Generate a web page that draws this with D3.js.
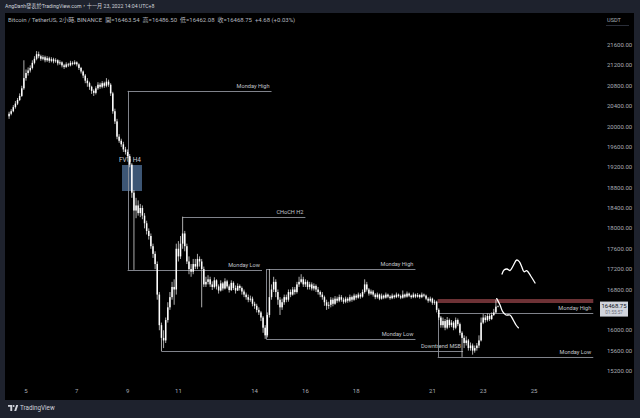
<!DOCTYPE html>
<html><head><meta charset="utf-8">
<script src="https://cdn.jsdelivr.net/npm/d3@7"></script>
<style>html,body{margin:0;padding:0;background:#1e222d;overflow:hidden}svg{display:block}</style>
</head><body><svg id="c" width="640" height="418"></svg>
<script>
// ---- data (2h candles, BTC/USDT, hours counted from Nov 4 00:00) ----
const firstOpen = 20200;
const firstHour = 8;
const stepHours = 2;
const closes = [
 20250,20300,20380,20450,20520,20600,20750,20950,21050,21100,21150,21250,
 21330,21420,21380,21330,21360,21300,21340,21290,21320,21280,21300,21240,
 21260,21200,21170,21220,21200,21250,21230,21260,21220,21150,21080,21000,
 20900,20850,20780,20700,20660,20750,20820,20780,20850,20800,20880,20820,
 20650,20300,20100,19800,19720,19650,19550,19500,19420,19250,18700,18350,
 18450,18300,18400,18250,18100,17950,17850,17650,17500,17300,16700,16100,
 15850,15800,16200,16450,16650,16850,16800,17600,17450,17700,17900,17650,
 17350,17200,17150,17300,17250,17400,17350,17200,16900,16950,17000,16900,
 16850,16980,16860,16780,16920,16820,16960,16860,16790,16930,16830,16780,
 16870,16830,16760,16700,16650,16600,16620,16520,16480,16400,16350,16250,
 16050,15900,16300,16650,16800,16950,16750,16600,16450,16550,16650,16600,
 16750,16700,16800,16750,16900,16950,17000,16900,16950,16850,16900,16820,
 16870,16800,16750,16700,16650,16550,16480,16500,16600,16520,16620,16580,
 16650,16600,16560,16620,16580,16650,16600,16680,16640,16700,16660,16750,
 16900,16800,16720,16760,16700,16650,16700,16620,16680,16640,16700,16660,
 16630,16680,16650,16700,16670,16640,16700,16660,16720,16680,16650,16700,
 16660,16690,16650,16700,16680,16620,16580,16620,16540,16560,16400,16250,
 16100,16180,16050,16200,16100,16150,16050,16200,16120,15950,15850,15750,
 15800,15650,15700,15600,15650,15700,15800,16150,16250,16200,16280,16220,
 16300,16350,16463.54,16468.75];
const highs = [
 20290,20340,20420,20500,20560,20650,20800,21300,21120,21160,21200,21300,
 21380,21480,21470,21410,21400,21390,21380,21370,21360,21350,21340,21320,
 21300,21280,21230,21260,21250,21290,21280,21300,21280,21240,21170,21100,
 21030,20950,20880,20800,20730,20790,20870,20860,20890,20880,20950,20920,
 20850,20680,20350,20150,19850,19760,19700,19600,19550,19460,19280,18750,
 18600,18550,18480,18450,18300,18150,18000,17900,17700,17550,17350,16750,
 16150,16000,16250,16550,16750,16950,17000,17700,17750,17850,18230,17950,
 17700,17450,17300,17400,17400,17500,17450,17400,17250,17050,17080,17050,
 16960,17040,17000,16900,16980,16950,17020,16990,16900,16980,16960,16880,
 16920,16900,16860,16800,16740,16700,16680,16660,16560,16520,16450,16380,
 16280,16100,16350,17200,16900,17050,17000,16800,16650,16620,16700,16700,
 16800,16800,16850,16850,16950,17050,17100,17050,17000,16980,16950,16940,
 16920,16900,16850,16780,16750,16680,16600,16560,16650,16640,16670,16660,
 16700,16690,16640,16660,16650,16700,16680,16720,16710,16740,16730,16800,
 17000,16950,16830,16800,16790,16730,16740,16720,16720,16700,16740,16720,
 16690,16720,16700,16740,16720,16700,16780,16720,16760,16740,16700,16740,
 16720,16730,16710,16740,16720,16700,16650,16660,16640,16600,16580,16430,
 16280,16250,16220,16260,16230,16200,16180,16250,16230,16150,15980,15900,
 15880,15830,15760,15740,15700,15750,15900,16250,16320,16300,16330,16320,
 16350,16420,16600,16486.5];
const lows = [
 20150,20220,20280,20350,20420,20500,20580,20720,20900,21000,21060,21120,
 21220,21300,21340,21290,21300,21260,21270,21250,21260,21240,21250,21200,
 21210,21160,21130,21150,21170,21180,21200,21210,21180,21110,21040,20950,
 20850,20780,20720,20640,20600,20630,20720,20740,20750,20760,20770,20780,
 20600,20250,20050,19750,19680,19600,19500,19450,19380,19200,18600,17185,
 18200,18250,18220,18180,18000,17880,17780,17600,17420,17200,16600,16000,
 15588,15650,15750,16150,16400,16600,16500,16700,17350,17400,17600,17550,
 17300,17100,17050,17100,17200,17200,17250,16450,16850,16850,16900,16850,
 16790,16820,16800,16720,16760,16780,16800,16820,16740,16770,16790,16720,
 16770,16780,16700,16650,16600,16550,16560,16470,16420,16350,16300,16180,
 15950,15830,15860,16250,16600,16750,16650,16500,16300,16400,16500,16550,
 16560,16650,16680,16700,16720,16850,16920,16850,16850,16800,16800,16780,
 16780,16750,16700,16650,16600,16480,16400,16420,16450,16470,16500,16540,
 16550,16560,16520,16530,16540,16550,16560,16580,16600,16620,16620,16640,
 16720,16760,16680,16690,16660,16610,16620,16590,16600,16610,16620,16630,
 16600,16610,16620,16630,16640,16610,16620,16630,16640,16650,16620,16630,
 16630,16640,16620,16630,16650,16590,16540,16550,16500,16500,16350,16200,
 16050,16050,16000,16020,16050,16060,16000,16020,16080,15900,15476,15650,
 15700,15600,15600,15520,15560,15600,15650,15780,16120,16150,16170,16180,
 16200,16280,16330,16462.08];

const yTicks = [21600,21200,20800,20400,20000,19600,19200,18800,18400,18000,17600,17200,16800,16000,15600,15200];
const xTickDays = [5,7,9,11,14,16,18,21,23,25];
const lastPrice = 16468.75;
const countdown = "01:55:57";

// annotation levels: [label, price, startHour, endHour]
const levelLines = [
 ["Monday High", 20700, 120, 256],
 ["Monday Low", 17185, 120, 247],
 ["CHoCH H2", 18230, 172, 288],
 ["Monday High", 17200, 251, 392],
 ["Monday Low", 15828, 251, 392],
 ["Downtrend MSB", 15588, 152, 437],
 ["Monday High", 16340, 413, 560],
 ["Monday Low", 15476, 413, 560]
];
const bracketLines = [[120, 20700, 17185],[251, 17200, 15828],[413, 16340, 15476]];
const redZone = {t0: 413, t1: 560, p0: 16613, p1: 16535};
const fvgZone = {t0: 114.7, t1: 133.6, p0: 19244, p1: 18734, label: "FVG H4"};
// hand-drawn projections: [hour, price]
const sketchUpper = [[456+17.8,17104],[456+19.7,17183],[456+22.5,17202],[456+25.3,17173],[456+28.2,17261],[456+31.7,17379],[456+34.1,17346],[456+36.4,17248],[456+38.6,17149],[456+41.1,17169],[456+44.9,17065],[456+49,16928]];
const sketchLower = [[456+12.8,16622],[456+15.9,16496],[456+18.4,16364],[456+21.5,16299],[456+25.3,16299],[456+28.4,16201],[456+31,16103],[456+33.2,16050]];

const header1 = "AngDanh發表於TradingView.com，十一月 23, 2022 14:04 UTC+8";
const header2 = "Bitcoin / TetherUS, 2小時, BINANCE  開=16463.54  高=16486.50  低=16462.08  收=16468.75  +4.68 (+0.03%)";

// ---- drawing ----
const svg = d3.select("#c");
const FONT = "Roboto, 'Noto Sans CJK TC', sans-serif";
svg.append("rect").attr("width",640).attr("height",418).attr("fill","#1e222d");
svg.append("rect").attr("x",5).attr("y",13).attr("width",629).attr("height",387).attr("fill","#000");

const x = d3.scaleLinear().domain([24, 504]).range([26, 534]);
const y = d3.scaleLinear().domain([15200, 21600]).range([371, 45]);

const candles = closes.map((c,i)=>({
  t: firstHour + i*stepHours,
  o: i===0 ? firstOpen : closes[i-1], c, h: highs[i], l: lows[i]
}));

const plot = svg.append("g");
// zones
plot.append("rect").attr("x",x(fvgZone.t0)).attr("y",y(fvgZone.p0))
  .attr("width",x(fvgZone.t1)-x(fvgZone.t0)).attr("height",y(fvgZone.p1)-y(fvgZone.p0))
  .attr("fill","#3d5675");
plot.append("text").attr("x",(x(fvgZone.t0)+x(fvgZone.t1))/2-2).attr("y",y(fvgZone.p0)-3)
  .attr("text-anchor","middle").attr("font-family",FONT).attr("font-size",6.5)
  .attr("fill","#c9ccd3").text(fvgZone.label);
plot.append("rect").attr("x",x(redZone.t0)).attr("y",y(redZone.p0))
  .attr("width",x(redZone.t1)-x(redZone.t0)).attr("height",y(redZone.p1)-y(redZone.p0))
  .attr("fill","#6e3236");

// level lines
const lg = plot.append("g");
levelLines.forEach(([lab,p,t0,t1])=>{
  lg.append("line").attr("x1",x(t0)).attr("x2",x(t1)).attr("y1",Math.round(y(p))+0.5).attr("y2",Math.round(y(p))+0.5)
    .attr("stroke","#8f929b").attr("stroke-width",0.9);
  lg.append("text").attr("x",x(t1)-2).attr("y",y(p)-3).attr("text-anchor","end")
    .attr("font-family",FONT).attr("font-size",5.6).attr("fill","#c3c6cd").text(lab);
});
bracketLines.forEach(([t,p0,p1])=>{
  lg.append("line").attr("x1",Math.round(x(t))+0.5).attr("x2",Math.round(x(t))+0.5).attr("y1",y(p0)).attr("y2",y(p1))
    .attr("stroke","#8f929b").attr("stroke-width",0.9);
});

// candles
const cg = plot.append("g");
cg.selectAll("line.w").data(candles).join("line")
  .attr("x1",d=>x(d.t)).attr("x2",d=>x(d.t)).attr("y1",d=>y(d.h)).attr("y2",d=>y(d.l))
  .attr("stroke","#e6e6e6").attr("stroke-width",0.75);
cg.selectAll("rect.b").data(candles).join("rect")
  .attr("x",d=>x(d.t)-0.75).attr("width",1.5)
  .attr("y",d=>y(Math.max(d.o,d.c)))
  .attr("height",d=>Math.max(0.8, Math.abs(y(d.o)-y(d.c))))
  .attr("fill","#ffffff");

// sketches
const ln = d3.line().x(d=>x(d[0])).y(d=>y(d[1])).curve(d3.curveCatmullRom);
[sketchUpper, sketchLower].forEach(s=>{
  plot.append("path").attr("d",ln(s)).attr("fill","none").attr("stroke","#fff")
    .attr("stroke-width",1.3).attr("stroke-linecap","round").attr("stroke-linejoin","round");
});

// price axis
const ay = svg.append("g");
ay.selectAll("text").data(yTicks).join("text")
  .attr("x",607).attr("y",d=>y(d)).attr("dy","0.35em")
  .attr("font-family",FONT).attr("font-size",6).attr("fill","#a9acb4")
  .text(d=>d3.format(".2f")(d));
ay.append("text").attr("x",607).attr("y",20).attr("dy","0.35em").attr("font-family",FONT)
  .attr("font-size",5.6).attr("fill","#a9acb4").text("USDT");
ay.append("line").attr("x1",606).attr("x2",629).attr("y1",25.5).attr("y2",25.5).attr("stroke","#2a2e39");
// last price label
const ly = y(lastPrice);
ay.append("rect").attr("x",600).attr("y",ly-4.8).attr("width",28).attr("height",15).attr("fill","#d1d4dc");
ay.append("text").attr("x",614).attr("y",ly).attr("dy","0.35em").attr("text-anchor","middle")
  .attr("font-family",FONT).attr("font-size",6).attr("fill","#131722").text(d3.format(".2f")(lastPrice));
ay.append("text").attr("x",614).attr("y",ly+6.5).attr("dy","0.35em").attr("text-anchor","middle")
  .attr("font-family",FONT).attr("font-size",4.6).attr("fill","#6a6d78").text(countdown);

// time axis
svg.append("g").selectAll("text").data(xTickDays).join("text")
  .attr("x",d=>x((d-4)*24)).attr("y",391).attr("dy","0.35em").attr("text-anchor","middle")
  .attr("font-family",FONT).attr("font-size",6).attr("fill","#a9acb4").text(d=>d);

// header
svg.append("text").attr("x",5).attr("y",6).attr("dy","0.35em").attr("font-family",FONT)
  .attr("font-size",5.2).attr("fill","#d1d4dc").text(header1);
svg.append("text").attr("x",8).attr("y",20).attr("dy","0.35em").attr("font-family",FONT)
  .attr("font-size",6).attr("fill","#b2b5be").attr("xml:space","preserve").style("white-space","pre").text(header2);

// footer logo
const fg = svg.append("g").attr("transform","translate(8,405)");
fg.append("path").attr("d","M0,0H4.2V6H2.3V1.8H0Z").attr("fill","#d1d4dc");
fg.append("circle").attr("cx",5.6).attr("cy",1).attr("r",0.95).attr("fill","#d1d4dc");
fg.append("path").attr("d","M6.2,6L8.2,0H10.2L8.2,6Z").attr("fill","#d1d4dc");
svg.append("text").attr("x",20).attr("y",408).attr("dy","0.35em").attr("font-family",FONT)
  .attr("font-size",6.3).attr("fill","#d1d4dc").text("TradingView");
</script></body></html>
